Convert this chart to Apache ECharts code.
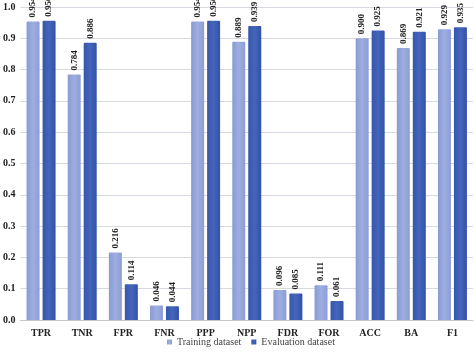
<!DOCTYPE html>
<html><head><meta charset="utf-8">
<script src="https://cdn.jsdelivr.net/npm/echarts@6/dist/echarts.min.js"></script>
<style>html,body{margin:0;padding:0;background:#fff}#c{width:474px;height:356px}</style>
</head><body><div id="c"></div>
<script>
const categories = ['TPR','TNR','FPR','FNR','PPP','NPP','FDR','FOR','ACC','BA','F1'];
const trainingValues = [0.954,0.784,0.216,0.046,0.954,0.889,0.096,0.111,0.900,0.869,0.929];
const evaluationValues = [0.956,0.886,0.114,0.044,0.956,0.939,0.085,0.061,0.925,0.921,0.935];
const yTicks = ['0.0','0.1','0.2','0.3','0.4','0.5','0.6','0.7','0.8','0.9','1.0'];

const serif = '"Liberation Serif","DejaVu Serif",serif';
const chart = echarts.init(document.getElementById('c'));
const lbl = {
  show: true, position: 'top', rotate: 90, align: 'left', verticalAlign: 'middle',
  distance: 4, fontFamily: serif, fontWeight: 'bold', fontSize: 9, color: '#222',
  formatter: p => p.value.toFixed(3)
};
chart.setOption({
  animation: false,
  grid: { left: 19, right: 1, top: 7, bottom: 36 },
  legend: {
    bottom: 4, left: 162, itemWidth: 5, itemHeight: 5, itemGap: 10,
    icon: 'rect',
    textStyle: { fontFamily: serif, fontSize: 10, color: '#444' },
    data: ['Training dataset','Evaluation dataset']
  },
  xAxis: {
    type: 'category', data: categories,
    axisTick: { show: false },
    axisLine: { lineStyle: { color: '#c8c8c8' } },
    axisLabel: { fontFamily: serif, fontWeight: 'bold', fontSize: 10, color: '#222', margin: 8 }
  },
  yAxis: {
    type: 'value', min: 0, max: 1, interval: 0.1,
    axisLabel: { fontFamily: serif, fontWeight: 'bold', fontSize: 10, color: '#222', margin: 5,
      formatter: v => yTicks[Math.round(v * 10)] },
    splitLine: { lineStyle: { color: '#d6d9e0' } },
    axisLine: { show: false }
  },
  series: [
    { name: 'Training dataset', type: 'bar', data: trainingValues, barWidth: 13, barGap: '23%',
      itemStyle: { color: new echarts.graphic.LinearGradient(0,0,1,0,[{offset:0,color:'#8a9bd4'},{offset:0.5,color:'#9eaee0'},{offset:1,color:'#8c9dd6'}]), borderRadius: [1,1,0,0] },
      label: lbl },
    { name: 'Evaluation dataset', type: 'bar', data: evaluationValues, barWidth: 13,
      itemStyle: { color: new echarts.graphic.LinearGradient(0,0,1,0,[{offset:0,color:'#3757ad'},{offset:0.5,color:'#4565bb'},{offset:1,color:'#3252a8'}]), borderRadius: [1,1,0,0] },
      label: lbl }
  ]
});
</script></body></html>
